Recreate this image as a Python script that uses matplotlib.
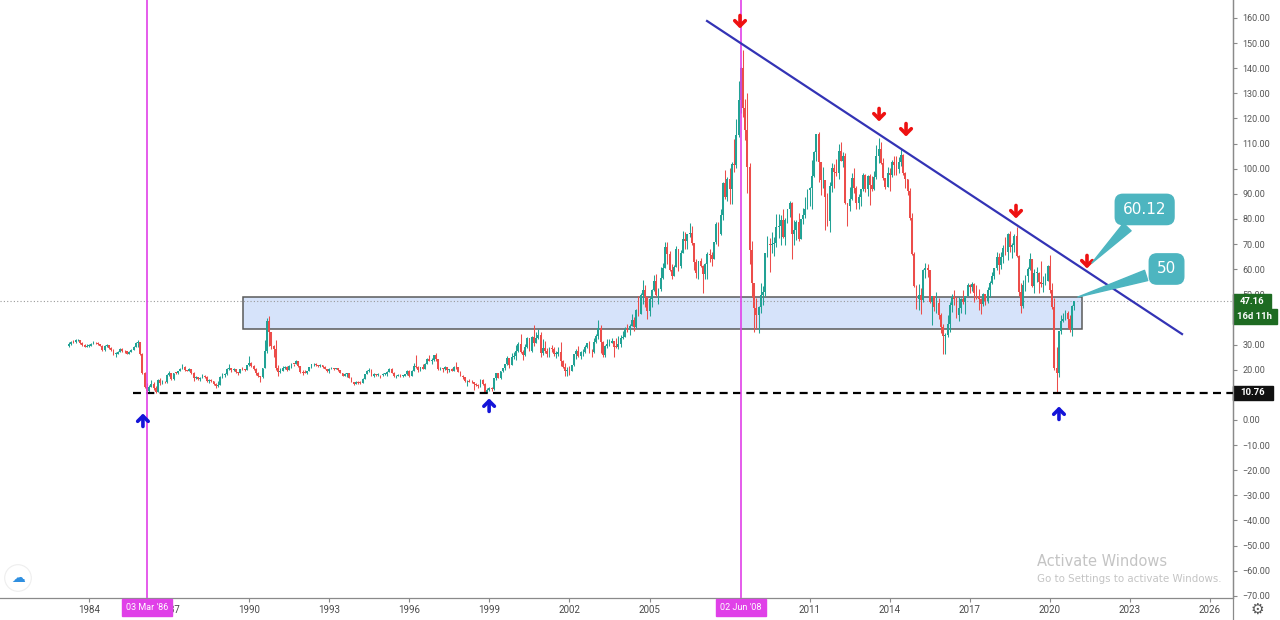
import matplotlib
matplotlib.use('Agg')
import matplotlib.pyplot as plt
import numpy as np
import matplotlib.transforms as mtrans
from matplotlib.patches import Rectangle, Circle
from matplotlib.lines import Line2D
from matplotlib.ticker import FixedLocator, FuncFormatter

plt.rcParams['font.family'] = ['Roboto', 'DejaVu Sans']

# ---------------- data (monthly candles, first bar = Apr 1983) ----------------
start_year = 1983
start_month = 4
first_open = 29.3

closes = [
    30.4, 31.2, 31.0, 31.7, 32.0, 30.7, 29.9, 29.2, 29.6,                      # 1983
    29.6, 30.4, 30.8, 30.5, 30.2, 29.6, 27.8, 29.4, 29.8, 28.7, 28.0, 26.4,    # 1984
    26.4, 27.0, 28.4, 27.4, 27.3, 26.4, 27.2, 27.9, 29.1, 30.5, 30.9, 26.3,    # 1985
    18.8, 13.3, 11.4, 13.3, 14.3, 12.8, 11.2, 15.9, 14.8, 15.2, 15.0, 17.9,    # 1986
    18.7, 16.2, 18.8, 18.7, 19.4, 20.3, 20.9, 19.8, 19.6, 20.2, 18.9, 16.7,    # 1987
    17.0, 16.2, 16.9, 17.5, 17.3, 15.4, 16.0, 15.5, 14.5, 13.4, 14.1, 17.2,    # 1988
    17.9, 18.2, 20.3, 20.5, 19.8, 20.3, 19.1, 18.9, 20.2, 20.0, 19.9, 21.8,    # 1989
    22.7, 21.5, 20.3, 18.6, 17.4, 17.1, 20.7, 27.3, 39.5, 35.2, 29.5, 28.4,    # 1990
    20.5, 19.2, 19.6, 20.8, 21.2, 20.0, 21.4, 22.3, 22.2, 23.4, 21.5, 19.1,    # 1991
    18.9, 18.7, 19.4, 20.9, 22.1, 22.4, 21.8, 21.4, 21.9, 21.2, 20.4, 19.5,    # 1992
    20.3, 20.6, 20.4, 20.5, 20.0, 18.8, 17.7, 18.4, 18.7, 16.9, 15.2, 14.2,    # 1993
    15.2, 14.8, 14.7, 16.5, 18.4, 19.3, 20.0, 17.5, 18.4, 18.1, 18.1, 17.8,    # 1994
    18.4, 18.5, 19.2, 20.4, 18.9, 17.4, 17.6, 17.8, 17.5, 17.6, 18.2, 19.6,    # 1995
    17.7, 19.5, 21.5, 21.2, 19.8, 20.9, 20.4, 22.3, 24.4, 23.4, 23.8, 25.9,    # 1996
    24.2, 20.3, 20.4, 20.2, 20.9, 19.8, 20.1, 19.6, 21.2, 20.9, 19.2, 17.6,    # 1997
    17.2, 15.4, 15.6, 15.2, 15.0, 14.2, 14.1, 13.4, 16.1, 14.4, 11.2, 12.1,    # 1998
    12.8, 12.3, 16.8, 18.7, 16.8, 19.3, 20.5, 22.1, 24.5, 21.8, 25.0, 25.6,    # 1999
    27.6, 30.4, 26.9, 25.7, 29.0, 32.5, 27.4, 33.1, 30.8, 32.7, 33.8, 26.8,    # 2000
    28.7, 27.4, 26.3, 28.5, 28.4, 26.3, 26.4, 27.2, 23.4, 21.2, 19.4, 19.8,    # 2001
    19.5, 21.7, 26.3, 27.3, 25.3, 26.9, 27.0, 28.9, 30.5, 27.2, 26.9, 31.2,    # 2002
    33.5, 36.6, 31.0, 25.8, 29.6, 30.2, 30.5, 31.6, 29.2, 29.1, 30.4, 32.5,    # 2003
    33.1, 36.2, 35.8, 37.4, 39.9, 37.1, 43.8, 42.1, 49.6, 51.8, 49.1, 43.5,    # 2004
    48.2, 51.8, 55.4, 49.7, 52.0, 56.5, 60.6, 68.9, 66.2, 59.8, 57.3, 61.0,    # 2005
    67.9, 61.4, 66.6, 71.9, 71.3, 73.9, 74.4, 70.3, 62.9, 58.7, 63.1, 61.1,    # 2006
    58.1, 62.0, 65.9, 65.7, 64.0, 70.7, 78.2, 74.0, 81.7, 94.5, 88.7, 96.0,    # 2007
    91.8, 101.8, 101.6, 113.5, 127.4, 140.0, 124.1, 115.5, 100.6, 67.8, 54.4, 44.6,  # 2008
    41.7, 44.8, 49.7, 51.1, 66.3, 69.9, 69.5, 70.0, 70.6, 77.0, 77.3, 79.4,    # 2009
    72.9, 79.7, 83.8, 86.2, 74.0, 75.6, 79.0, 71.9, 80.0, 81.4, 84.1, 91.4,    # 2010
    92.2, 97.0, 106.7, 113.9, 102.7, 95.4, 95.7, 88.8, 79.2, 93.2, 100.4, 98.8,  # 2011
    98.5, 107.1, 103.0, 104.9, 86.5, 85.0, 88.1, 96.5, 92.2, 86.2, 88.9, 91.8,   # 2012
    97.5, 92.1, 97.2, 93.5, 92.0, 96.6, 105.0, 107.7, 102.3, 96.4, 92.7, 98.4,   # 2013
    97.5, 102.6, 101.6, 99.7, 102.7, 105.4, 98.2, 96.0, 91.2, 80.5, 66.2, 53.3,  # 2014
    48.2, 49.8, 47.6, 59.6, 60.3, 59.5, 47.1, 49.2, 45.1, 46.6, 41.7, 37.0,    # 2015
    33.6, 33.8, 38.3, 45.9, 49.1, 48.3, 41.6, 44.7, 48.2, 46.9, 49.4, 53.7,    # 2016
    52.8, 54.0, 50.6, 49.3, 48.3, 46.0, 50.2, 47.2, 51.7, 54.4, 57.4, 60.4,    # 2017
    64.7, 61.6, 64.9, 68.6, 67.0, 74.2, 68.8, 69.8, 73.3, 65.3, 50.9, 45.4,    # 2018
    53.8, 57.2, 60.1, 63.9, 53.5, 58.5, 58.6, 55.1, 54.1, 54.2, 55.2, 61.1,    # 2019
    51.6, 44.8, 20.5, 18.8, 35.5, 39.3, 40.3, 42.6, 40.2, 35.8, 45.3, 47.16,   # 2020
]

highs = [
    31.0, 31.6, 31.9, 32.3, 32.4, 32.0, 31.0, 30.3, 30.1,
    30.3, 30.8, 31.6, 31.2, 30.9, 30.4, 29.8, 29.9, 30.3, 30.0, 29.0, 28.4,
    26.9, 27.5, 28.8, 28.5, 27.8, 27.4, 27.6, 28.2, 29.6, 31.0, 31.8, 31.2,
    26.5, 19.0, 14.8, 14.0, 16.0, 15.2, 13.5, 16.2, 16.9, 16.0, 15.5, 18.2,
    19.4, 18.8, 18.9, 19.0, 19.6, 20.5, 22.3, 21.4, 20.0, 20.5, 20.2, 19.0,
    17.5, 17.2, 17.1, 18.5, 17.9, 17.5, 16.3, 16.5, 15.6, 14.7, 15.6, 17.5,
    18.6, 18.6, 20.6, 22.2, 20.5, 20.8, 20.4, 19.2, 20.4, 20.9, 20.1, 22.0,
    25.5, 23.0, 21.8, 20.6, 19.0, 17.7, 20.7, 31.9, 40.4, 41.2, 35.2, 29.9,
    32.0, 22.0, 20.5, 21.3, 21.6, 21.4, 21.7, 22.8, 22.4, 24.0, 23.4, 21.6,
    19.7, 19.8, 19.6, 21.0, 22.2, 22.8, 22.5, 21.8, 22.1, 22.0, 21.4, 20.2,
    20.5, 21.0, 20.7, 20.8, 20.8, 20.0, 18.9, 18.6, 18.8, 18.9, 17.0, 15.2,
    15.6, 15.4, 15.4, 16.7, 18.5, 20.0, 20.6, 20.4, 18.6, 18.5, 18.8, 18.0,
    18.9, 18.8, 19.3, 20.8, 20.5, 19.0, 17.9, 18.3, 18.2, 17.9, 18.4, 19.7,
    19.7, 19.8, 22.5, 25.9, 21.6, 21.0, 22.4, 22.5, 24.5, 26.0, 24.5, 26.0,
    26.6, 24.2, 21.0, 20.8, 21.3, 21.2, 20.3, 20.6, 21.4, 23.1, 21.0, 19.3,
    17.8, 17.3, 16.1, 16.2, 16.0, 15.2, 14.6, 14.3, 16.5, 16.2, 14.6, 12.9,
    13.0, 13.3, 16.9, 18.9, 18.8, 19.5, 20.8, 22.4, 25.6, 24.7, 26.8, 27.0,
    30.0, 30.9, 34.4, 27.9, 30.2, 33.0, 32.8, 33.6, 37.8, 35.2, 36.1, 35.1,
    32.2, 31.6, 28.8, 28.9, 30.0, 29.2, 27.4, 28.9, 31.0, 23.8, 22.6, 21.1,
    21.5, 21.9, 26.4, 28.4, 29.4, 27.4, 28.1, 30.0, 30.8, 31.4, 28.2, 32.7,
    34.2, 39.9, 38.0, 31.5, 30.0, 32.3, 32.4, 32.8, 31.6, 32.6, 33.4, 33.8,
    35.3, 37.0, 38.3, 38.2, 42.3, 40.8, 44.3, 49.4, 50.5, 55.7, 53.6, 46.1,
    49.0, 52.2, 57.6, 58.3, 52.7, 60.9, 62.3, 70.9, 70.8, 67.3, 62.1, 61.6,
    69.2, 67.9, 67.6, 75.4, 74.9, 74.2, 78.4, 77.2, 70.4, 64.0, 63.2, 64.5,
    61.5, 62.6, 67.0, 68.1, 66.7, 70.7, 78.8, 78.7, 84.1, 94.7, 99.3, 96.8,
    100.1, 102.6, 111.8, 119.9, 135.1, 140.4, 147.3, 127.8, 130.0, 102.1, 71.2, 54.7,
    48.6, 45.2, 54.7, 53.5, 66.5, 73.4, 72.4, 75.0, 72.9, 82.0, 82.0, 81.4,
    83.9, 80.5, 83.9, 87.2, 86.8, 79.4, 79.4, 82.4, 80.1, 84.2, 88.6, 92.1,
    92.6, 103.4, 106.9, 113.9, 114.8, 102.8, 100.6, 95.7, 90.5, 94.7, 102.4, 101.8,
    103.7, 109.8, 110.6, 106.5, 106.4, 86.0, 92.9, 98.3, 100.4, 93.0, 90.0, 91.8,
    98.2, 98.0, 97.7, 97.8, 97.1, 99.0, 109.3, 112.2, 110.7, 104.4, 95.3, 100.8,
    100.4, 103.4, 105.2, 104.9, 104.5, 107.7, 105.8, 98.9, 95.8, 92.2, 82.4, 66.9,
    53.9, 54.2, 52.5, 59.9, 62.6, 61.9, 59.8, 49.3, 49.0, 50.9, 48.4, 42.6,
    38.4, 34.7, 41.9, 46.8, 50.2, 51.7, 49.0, 49.0, 48.4, 51.9, 49.4, 54.5,
    54.3, 54.9, 54.6, 53.8, 52.0, 48.7, 50.4, 50.2, 52.9, 55.2, 59.1, 60.5,
    66.7, 66.3, 66.7, 69.6, 72.9, 74.5, 75.3, 70.4, 73.9, 76.9, 65.7, 54.6,
    55.8, 57.8, 60.7, 66.6, 63.8, 60.1, 60.9, 58.8, 63.4, 57.5, 58.7, 61.8,
    65.7, 54.7, 48.7, 29.1, 35.6, 41.6, 42.5, 43.8, 43.5, 41.9, 45.9, 47.5,
]

lows = [
    29.0, 30.0, 30.5, 30.6, 31.3, 30.3, 29.6, 28.9, 28.9,
    29.1, 29.5, 30.2, 30.1, 29.9, 29.4, 27.5, 27.6, 29.1, 28.3, 27.6, 25.9,
    25.2, 26.1, 26.9, 27.1, 26.8, 26.1, 26.2, 27.1, 27.8, 29.0, 29.1, 25.9,
    18.5, 12.8, 10.8, 10.9, 13.1, 12.1, 10.9, 11.1, 14.1, 14.2, 14.6, 14.9,
    17.5, 15.9, 16.0, 18.2, 18.5, 19.3, 20.1, 19.4, 19.3, 19.3, 18.5, 15.5,
    16.3, 15.8, 15.5, 16.7, 16.9, 15.2, 14.8, 15.0, 13.9, 12.6, 13.1, 13.9,
    16.9, 17.3, 18.1, 19.8, 19.1, 19.3, 18.8, 18.0, 18.7, 19.7, 19.5, 19.9,
    21.5, 21.2, 19.9, 17.9, 17.0, 15.1, 16.6, 20.5, 26.5, 29.3, 28.3, 25.0,
    20.0, 17.7, 18.6, 19.3, 20.4, 19.6, 19.9, 20.7, 21.5, 22.1, 21.2, 18.9,
    17.9, 18.6, 18.5, 19.3, 20.7, 21.6, 21.3, 20.9, 21.1, 20.7, 20.2, 19.0,
    18.7, 20.1, 20.0, 20.1, 19.6, 18.6, 17.4, 17.5, 17.1, 16.8, 15.1, 14.1,
    14.2, 14.4, 14.2, 14.7, 16.4, 18.2, 19.0, 17.4, 17.2, 17.4, 17.7, 16.8,
    17.6, 17.9, 17.6, 19.1, 18.8, 17.3, 16.8, 17.5, 17.2, 17.0, 17.5, 18.1,
    17.2, 17.7, 19.3, 20.8, 19.2, 19.5, 20.2, 20.4, 22.1, 23.3, 22.2, 23.6,
    23.4, 20.0, 19.8, 19.2, 19.8, 18.8, 19.2, 19.4, 19.3, 20.4, 19.1, 17.5,
    16.3, 15.3, 13.6, 15.0, 14.6, 11.9, 13.4, 12.6, 13.0, 14.0, 10.9, 10.8,
    11.4, 11.5, 12.0, 16.0, 16.6, 16.2, 19.0, 19.8, 22.0, 20.6, 21.8, 24.2,
    24.0, 27.0, 26.6, 23.8, 25.6, 28.6, 27.4, 26.9, 29.6, 30.8, 32.4, 25.1,
    26.0, 26.8, 25.1, 25.0, 27.2, 25.4, 24.7, 25.6, 21.6, 20.8, 17.4, 17.5,
    17.8, 19.4, 21.3, 24.4, 24.9, 24.3, 25.6, 26.6, 28.5, 26.7, 25.2, 26.8,
    30.7, 32.4, 26.7, 24.9, 25.1, 28.6, 29.6, 30.6, 25.2, 28.5, 28.3, 29.2,
    32.2, 32.9, 35.2, 33.8, 37.3, 35.4, 36.8, 41.3, 42.1, 46.3, 45.0, 40.3,
    41.3, 45.0, 51.2, 49.3, 46.2, 51.2, 56.0, 60.3, 62.1, 59.3, 56.1, 57.3,
    61.3, 59.3, 60.3, 66.4, 68.2, 68.0, 72.8, 69.5, 59.5, 56.6, 56.3, 60.9,
    50.5, 56.2, 56.3, 62.8, 61.2, 63.9, 70.0, 69.1, 73.7, 79.5, 88.0, 87.2,
    86.1, 86.1, 98.7, 100.2, 112.6, 122.0, 120.4, 111.3, 90.5, 62.0, 48.8, 35.1,
    36.6, 34.5, 42.6, 45.6, 49.3, 64.8, 59.1, 66.4, 65.1, 69.0, 72.4, 69.5,
    72.4, 69.5, 78.5, 80.6, 64.2, 69.5, 71.6, 71.1, 72.6, 78.1, 80.2, 84.3,
    85.1, 83.9, 96.6, 102.9, 94.6, 89.6, 92.4, 75.7, 77.1, 74.9, 90.6, 92.5,
    97.3, 96.0, 102.9, 100.7, 86.0, 77.3, 83.1, 87.7, 90.3, 84.1, 84.1, 85.1,
    91.1, 90.9, 89.3, 85.6, 91.1, 91.6, 95.9, 102.2, 101.7, 95.7, 91.8, 92.6,
    91.2, 96.7, 97.4, 97.4, 98.4, 101.1, 97.6, 92.5, 89.6, 79.4, 65.7, 52.8,
    44.2, 43.6, 42.0, 47.1, 56.5, 57.0, 46.7, 37.8, 43.2, 42.6, 40.0, 34.5,
    26.2, 26.1, 33.2, 35.2, 43.0, 45.8, 40.6, 39.2, 42.5, 46.2, 42.2, 49.9,
    50.7, 51.2, 47.1, 48.2, 43.8, 42.1, 45.4, 45.6, 46.5, 49.1, 54.2, 56.1,
    59.7, 58.1, 59.9, 62.4, 65.8, 63.6, 66.9, 64.4, 67.0, 64.8, 49.4, 42.4,
    44.4, 51.2, 55.1, 59.7, 53.1, 50.6, 54.8, 50.5, 52.8, 50.9, 53.7, 55.3,
    50.6, 44.0, 20.0, 10.76, 17.3, 34.4, 39.0, 39.6, 36.6, 34.9, 33.6, 43.9,
]

year_ticks = [1984, 1987, 1990, 1993, 1996, 1999, 2002, 2005, 2008, 2011, 2014, 2017, 2020, 2023, 2026]
hidden_year_labels = [2008]
price_ticks = list(range(-70, 161, 10))
hidden_price_labels = [10, 40]

last_price = 47.16
support_level = 10.76
zone_low, zone_high = 36.1, 48.8
zone_start, zone_end = 1989.77, 2021.2
trend_x = [2007.155, 2024.95]
trend_y = [158.8, 34.2]
vline_dates = [1986.167, 2008.418]
vline_labels = ["03 Mar '86", "02 Jun '08"]
red_arrows_x = [2008.39, 2013.60, 2014.61, 2018.73, 2021.39]
red_arrows_y = [158.4, 121.4, 115.4, 82.8, 62.9]
blue_arrows_x = [1986.02, 1998.99, 2020.34]
blue_arrows_y = [0.0, 6.0, 2.8]

assert len(closes) == len(highs) == len(lows)

# ---------------- figure ----------------
W, H = 1280, 620
fig = plt.figure(figsize=(W / 100, H / 100), dpi=100, facecolor='white')
ax_right_px, ax_bottom_px = 1233, 598
ax = fig.add_axes([0, (H - ax_bottom_px) / H, ax_right_px / W, ax_bottom_px / H])
ax.set_facecolor('white')

xmin, xmax = 1980.665, 2026.86
ymin, ymax = -70.85, 167.16
ax.set_xlim(xmin, xmax)
ax.set_ylim(ymin, ymax)
unit_per_px = (ymax - ymin) / ax_bottom_px

n = len(closes)
xs = start_year + (start_month - 1) / 12 + np.arange(n) / 12
c = np.array(closes)
o = np.array([first_open] + closes[:-1])
h = np.maximum(np.array(highs), np.maximum(o, c))
l = np.minimum(np.array(lows), np.minimum(o, c))
up = c >= o
UP, DN = '#22a295', '#ec4d4a'
cols = np.where(up, UP, DN)

ax.vlines(xs, l, h, colors=cols, linewidth=0.75, zorder=3)
body_bottom = np.minimum(o, c)
body_h = np.maximum(np.abs(c - o), 0.3)
ax.bar(xs, body_h, bottom=body_bottom, width=0.068, color=cols, linewidth=0, zorder=3.1)

# support zone
ax.add_patch(Rectangle((zone_start, zone_low), zone_end - zone_start, zone_high - zone_low,
                       facecolor='#d6e3fa', edgecolor='#5a5a5a', linewidth=1.1, zorder=1))

# last price dotted line
ax.axhline(last_price, color='#9a9a9a', linestyle=(0, (1, 2)), linewidth=0.8, zorder=2)

# support dashed line
ax.hlines(support_level, 1985.65, xmax, colors='black', linewidth=1.6,
          linestyles=(0, (3.6, 2.4)), zorder=4)

# trend line
ax.plot(trend_x, trend_y, color='#3333b5', linewidth=1.6, zorder=5)

# vertical magenta lines
MAG = '#e040e8'
bt = mtrans.blended_transform_factory(ax.transData, ax.transAxes)
for xv, lab in zip(vline_dates, vline_labels):
    ax.axvline(xv, color=MAG, linewidth=1.2, zorder=4)
    ax.text(xv, -0.016, lab, transform=bt, ha='center', va='center', fontsize=6.5,
            color='white', clip_on=False, zorder=30,
            bbox=dict(boxstyle='square,pad=0.45', fc=MAG, ec=MAG))

# arrows (about 14 px tall)
half = 6.5 * unit_per_px
for xa, ya in zip(red_arrows_x, red_arrows_y):
    ax.annotate('', xy=(xa, ya - half), xytext=(xa, ya + half),
                arrowprops=dict(arrowstyle='->,head_width=0.38,head_length=0.38', lw=2.6,
                                color='#ee1111', shrinkA=0, shrinkB=0), zorder=6)
for xa, ya in zip(blue_arrows_x, blue_arrows_y):
    ax.annotate('', xy=(xa, ya + half), xytext=(xa, ya - half),
                arrowprops=dict(arrowstyle='->,head_width=0.38,head_length=0.38', lw=2.6,
                                color='#1414d8', shrinkA=0, shrinkB=0), zorder=6)

# callouts
TEAL = '#4db5c0'
ax.annotate('60.12', xy=(2021.5, 61.7), xytext=(2023.55, 83.8), ha='center', va='center',
            fontsize=11, color='white', zorder=8, family='DejaVu Sans',
            bbox=dict(boxstyle='round,pad=0.5,rounding_size=0.5', fc=TEAL, ec=TEAL),
            arrowprops=dict(arrowstyle='wedge,tail_width=0.7,shrink_factor=0.5', fc=TEAL, ec=TEAL))
ax.annotate('50', xy=(2020.95, 48.6), xytext=(2024.37, 60.1), ha='center', va='center',
            fontsize=11, color='white', zorder=8, family='DejaVu Sans',
            bbox=dict(boxstyle='round,pad=0.5,rounding_size=0.5', fc=TEAL, ec=TEAL),
            arrowprops=dict(arrowstyle='wedge,tail_width=0.7,shrink_factor=0.5', fc=TEAL, ec=TEAL))

# axes styling
for s in ['left', 'top']:
    ax.spines[s].set_visible(False)
ax.spines['right'].set_color('#8a8a8a')
ax.spines['right'].set_linewidth(0.9)
ax.spines['bottom'].set_color('#8a8a8a')
ax.spines['bottom'].set_linewidth(0.9)

ax.yaxis.tick_right()
ax.yaxis.set_major_locator(FixedLocator(price_ticks))
def fmt_price(v, p):
    if int(round(v)) in hidden_price_labels:
        return ''
    return f'{v:.2f}'.replace('-', '\u2212')
ax.yaxis.set_major_formatter(FuncFormatter(fmt_price))
ax.tick_params(axis='y', direction='out', length=3, width=0.8, color='#8a8a8a',
               labelsize=6.5, labelcolor='#555555', pad=4)
ax.xaxis.set_major_locator(FixedLocator(year_ticks))
def fmt_year(v, p):
    yv = int(round(v))
    return '' if yv in hidden_year_labels else f'{yv}'
ax.xaxis.set_major_formatter(FuncFormatter(fmt_year))
ax.tick_params(axis='x', direction='out', length=3, width=0.8, color='#8a8a8a',
               labelsize=7, labelcolor='#4a4a4a', pad=2)

# price labels on the right scale
bty = mtrans.blended_transform_factory(ax.transAxes, ax.transData)
px = 1.0 / ax_right_px
GREEN = '#1e6b22'
def price_box(yc, halfh, wpx, text, fc):
    ax.add_patch(Rectangle((1.0, yc - halfh), wpx * px, 2 * halfh, transform=bty,
                           facecolor=fc, edgecolor=fc, clip_on=False, zorder=20))
    ax.text(1.0 + wpx * px / 2, yc, text, transform=bty, ha='center', va='center',
            fontsize=6.8, fontweight='bold', color='white', clip_on=False, zorder=21)
price_box(last_price, 2.9, 38, f'{last_price:.2f}', GREEN)
price_box(41.2, 2.9, 44, '16d 11h', GREEN)
price_box(support_level, 2.9, 40, f'{support_level:.2f}', '#111111')

# right scale line extension and gear
fig.add_artist(Line2D([ax_right_px / W, ax_right_px / W], [0, 1], color='#8a8a8a',
                      linewidth=0.9, transform=fig.transFigure))
fig.text(1257 / W, 1 - 609 / H, '\u2699', ha='center', va='center', fontsize=11,
         color='#555555', family='DejaVu Sans')

# logo
logo_ax = fig.add_axes([4 / W, 1 - 592 / H, 28 / W, 28 / H])
logo_ax.set_xlim(-1, 1); logo_ax.set_ylim(-1, 1); logo_ax.axis('off')
logo_ax.add_patch(Circle((0, 0), 0.95, facecolor='white', edgecolor='#eeeeee', linewidth=0.8))
logo_ax.text(0, -0.02, '\u2601', ha='center', va='center', fontsize=10, color='#2f8fe0',
             family='DejaVu Sans')

# watermark
fig.text(1037 / W, 1 - 562 / H, 'Activate Windows', ha='left', va='center',
         fontsize=10.5, color='#c4c4c4', family='DejaVu Sans')
fig.text(1037 / W, 1 - 579 / H, 'Go to Settings to activate Windows.', ha='left', va='center',
         fontsize=7.4, color='#c4c4c4', family='DejaVu Sans')

fig.savefig('out.png', dpi=100, facecolor='white')
